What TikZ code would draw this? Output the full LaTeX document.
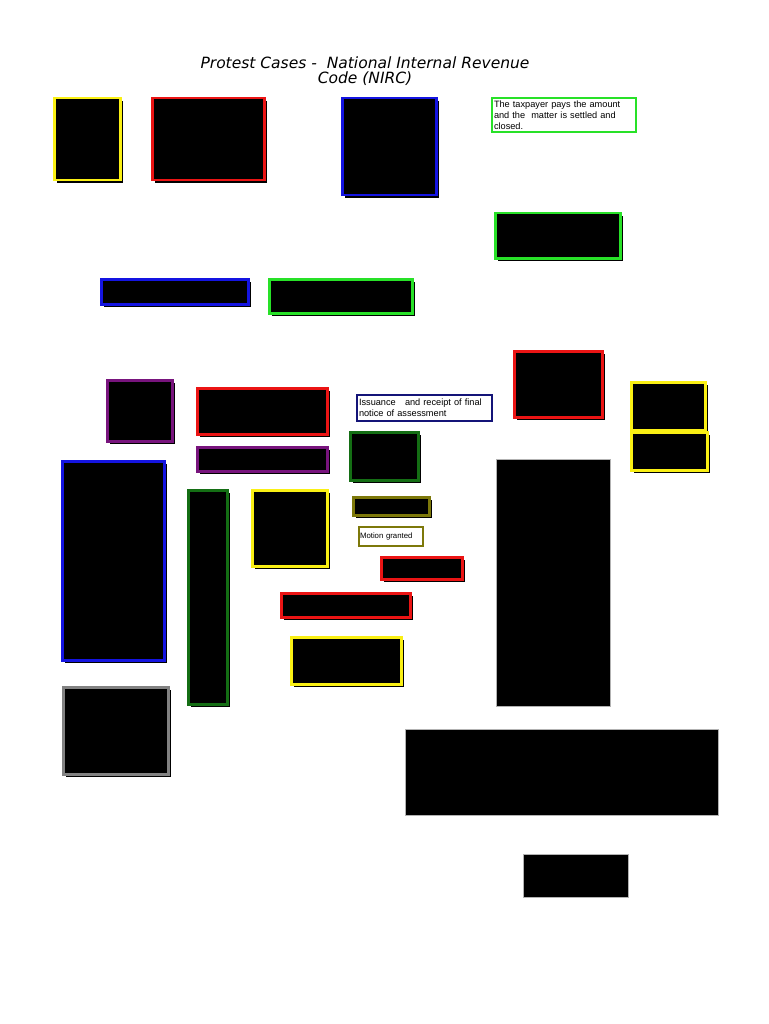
\documentclass[tikz,border=0pt]{standalone}
\usepackage{fontspec}
\setmainfont{Liberation Sans}
\newfontfamily\titlefont{DejaVu Sans}
\usepackage{xcolor}
\usepackage{tikz}
\usetikzlibrary{shadows, positioning}
\definecolor{boxyellow}{RGB}{250, 240, 20}
\definecolor{boxred}{RGB}{235, 20, 20}
\definecolor{boxblue}{RGB}{20, 20, 225}
\definecolor{boxgreen}{RGB}{40, 225, 40}
\definecolor{boxdarkgreen}{RGB}{20, 110, 20}
\definecolor{boxpurple}{RGB}{120, 20, 125}
\definecolor{boxnavy}{RGB}{20, 20, 120}
\definecolor{boxolive}{RGB}{125, 120, 10}
\definecolor{boxgray}{RGB}{130, 130, 130}

\tikzset{
    panel/.style={draw=#1, line width=2.5pt, fill=black, inner sep=0pt, anchor=north west,
        drop shadow={shadow xshift=3pt, shadow yshift=-3pt, fill=black, opacity=1}},
    darkpanel/.style={draw=gray!60, line width=0.6pt, fill=black, inner sep=0pt, anchor=north west},
    notebox/.style={draw=#1, line width=2pt, fill=white, inner sep=2pt, anchor=north west,
        align=left, font=\fontsize{9.2}{11}\selectfont}
}

\begin{document}
\begin{tikzpicture}[x=1pt, y=-1pt]
    \useasboundingbox (0,0) rectangle (768,1024);

    % title
    \node[font=\titlefont\itshape\fontsize{15.5}{15.5}\selectfont, align=center] (title) at (365,71)
        {Protest Cases -\ \ National Internal Revenue\\Code (NIRC)};

    % top row
    \node[panel=boxyellow, minimum width=66pt, minimum height=82pt] (yellowA) at (53,97) {};
    \node[panel=boxred, minimum width=112pt, minimum height=82pt] (redA) at (151,97) {};
    \node[panel=boxblue, minimum width=94pt, minimum height=97pt] (blueA) at (341,97) {};
    \node[notebox=boxgreen, text width=140pt, minimum height=34pt] (settled) at (491,97)
        {The taxpayer pays the amount\\and the\ \ matter is settled and\\closed.};
    \node[panel=boxgreen, minimum width=125pt, minimum height=45pt] (greenA) at (494,212) {};

    % second row
    \node[panel=boxblue, minimum width=147pt, minimum height=25pt] (blueB) at (100,278) {};
    \node[panel=boxgreen, minimum width=143pt, minimum height=34pt] (greenB) at (268,278) {};

    % middle
    \node[panel=boxred, minimum width=88pt, minimum height=66pt] (redB) at (513,350) {};
    \node[panel=boxyellow, minimum width=74pt, minimum height=48pt] (yellowB) at (630,381) {};
    \node[panel=boxyellow, minimum width=76pt, minimum height=38pt] (yellowC) at (630,431) {};
    \node[panel=boxpurple, minimum width=65pt, minimum height=61pt] (purpleA) at (106,379) {};
    \node[panel=boxred, minimum width=130pt, minimum height=46pt] (redC) at (196,387) {};
    \node[notebox=boxnavy, text width=131pt, minimum height=26pt] (issuance) at (356,394)
        {Issuance\ \ \ and receipt of final\\notice of assessment};
    \node[panel=boxdarkgreen, minimum width=68pt, minimum height=48pt] (greenC) at (349,431) {};
    \node[panel=boxpurple, minimum width=130pt, minimum height=24pt] (purpleB) at (196,446) {};

    % lower left
    \node[panel=boxblue, minimum width=102pt, minimum height=199pt] (blueC) at (61,460) {};
    \node[panel=boxdarkgreen, minimum width=39pt, minimum height=214pt] (greenD) at (187,489) {};
    \node[panel=boxyellow, minimum width=75pt, minimum height=76pt] (yellowD) at (251,489) {};
    \node[panel=boxolive, minimum width=76pt, minimum height=18pt] (oliveA) at (352,496) {};
    \node[notebox=boxolive, text width=62pt, minimum height=19pt, inner sep=1pt,
        font=\fontsize{7.8}{9}\selectfont] (granted) at (358,526) {Motion granted};
    \node[panel=boxred, minimum width=81pt, minimum height=22pt] (redD) at (380,556) {};
    \node[panel=boxred, minimum width=129pt, minimum height=24pt] (redE) at (280,592) {};
    \node[panel=boxyellow, minimum width=110pt, minimum height=47pt] (yellowE) at (290,636) {};
    \node[panel=boxgray, minimum width=105pt, minimum height=87pt] (grayA) at (62,686) {};

    % plain black blocks
    \node[darkpanel, minimum width=114pt, minimum height=247pt] (blockA) at (496,459) {};
    \node[darkpanel, minimum width=313pt, minimum height=86pt] (blockB) at (405,729) {};
    \node[darkpanel, minimum width=105pt, minimum height=43pt] (blockC) at (523,854) {};
\end{tikzpicture}
\end{document}
